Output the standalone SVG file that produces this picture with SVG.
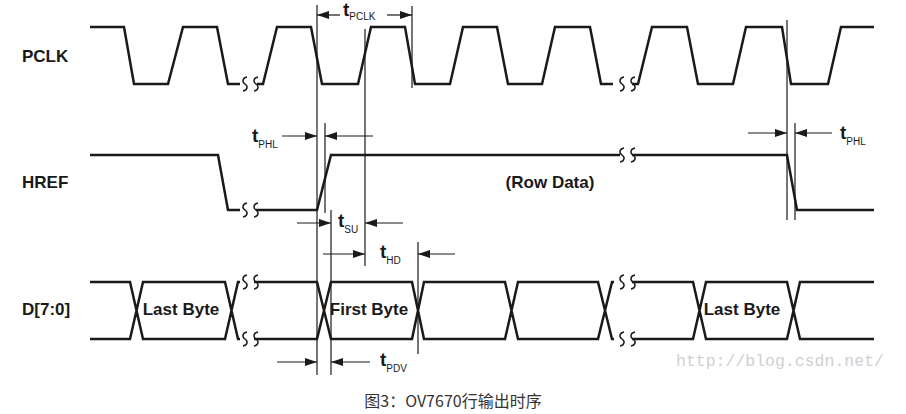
<svg xmlns="http://www.w3.org/2000/svg" width="906" height="414" viewBox="0 0 906 414">
<style>
.w{fill:none;stroke:#1a1a1a;stroke-width:2.5;stroke-linejoin:miter}
.t{fill:none;stroke:#1a1a1a;stroke-width:1.2}
.a{stroke:#1a1a1a;stroke-width:1.2;marker-end:url(#ah)}
.b{fill:none;stroke:#1a1a1a;stroke-width:1.5}
.lab{font-family:"Liberation Sans",Arial,sans-serif;font-weight:bold;font-size:17px;fill:#1a1a1a}
.tt{font-family:"Liberation Sans",Arial,sans-serif;font-weight:bold;font-size:19px;fill:#1a1a1a}
.sub{font-family:"Liberation Sans",Arial,sans-serif;font-size:10px;font-weight:normal;fill:#1a1a1a}
</style>
<defs>
<marker id="ah" markerWidth="12" markerHeight="8" refX="12" refY="4" orient="auto" markerUnits="userSpaceOnUse"><path d="M0,0 L12,4 L0,8 z" fill="#1a1a1a"/></marker>
<path id="brk" d="M2,-7 C-3,-6 -3,-2 0,0 C3,2 3,6 -2,7" class="b"/>
</defs>
<g id="PCLK">
<text class="lab" x="22" y="62">PCLK</text>
<polyline class="w" points="90,27 124,27 134,84 168,84 183,27 217,27 228,84 240,84"/>
<polyline class="w" points="257,84 263,84 277,27 311,27 322,84 358,84 371,27 405,27 415,84 450,84 463,27 497,27 508,84 542,84 555,27 590,27 601,84 613,84"/>
<polyline class="w" points="632,84 638,84 652,27 687,27 698,84 733,84 746,27 782,27 791,84 828,84 841,27 874,27"/>
<use href="#brk" x="245" y="84"/><use href="#brk" x="256" y="84"/>
<use href="#brk" x="622" y="84"/><use href="#brk" x="633" y="84"/>
</g>
<g id="HREF">
<text class="lab" x="22" y="188">HREF</text>
<polyline class="w" points="90,155 218,155 228,210 240,210"/>
<polyline class="w" points="256,210 317,210 331,155 620,155"/>
<polyline class="w" points="632,155 787,155 797,210 874,210"/>
<use href="#brk" x="245" y="210"/><use href="#brk" x="256" y="210"/>
<use href="#brk" x="622" y="155"/><use href="#brk" x="633" y="155"/>
<text class="lab" x="550" y="188" text-anchor="middle">(Row Data)</text>
</g>
<g id="D">
<text class="lab" x="22" y="315">D[7:0]</text>
<path class="w" d="M90,282 H130 L143,339 H225 L238,282 H240 M90,339 H130 L143,282 H225 L238,339 H240
M254,282 H317 L331,339 H412 L424,282 H505 L518,339 H598 L612,282 H614 M254,339 H317 L331,282 H412 L424,339 H505 L518,282 H598 L612,339 H614
M632,282 H693 L706,339 H787 L800,282 H874 M632,339 H693 L706,282 H787 L800,339 H874"/>
<use href="#brk" x="245" y="282"/><use href="#brk" x="256" y="282"/>
<use href="#brk" x="245" y="339"/><use href="#brk" x="256" y="339"/>
<use href="#brk" x="622" y="282"/><use href="#brk" x="633" y="282"/>
<use href="#brk" x="622" y="339"/><use href="#brk" x="633" y="339"/>
<text class="lab" x="181" y="315" text-anchor="middle">Last Byte</text>
<text class="lab" x="369" y="315" text-anchor="middle">First Byte</text>
<text class="lab" x="742" y="315" text-anchor="middle">Last Byte</text>
</g>
<g id="connectors">
<line class="t" x1="317" y1="5" x2="317" y2="375"/>
<line class="t" x1="365" y1="29" x2="365" y2="266"/>
<line class="t" x1="412" y1="6" x2="412" y2="88"/>
<line class="t" x1="325" y1="123" x2="325" y2="213"/>
<line class="t" x1="331" y1="210" x2="331" y2="375"/>
<line class="t" x1="418" y1="242" x2="418" y2="354"/>
<line class="t" x1="787" y1="20" x2="787" y2="220"/>
<line class="t" x1="795" y1="123" x2="795" y2="220"/>
<line class="a" x1="340" y1="15" x2="317" y2="15"/>
<line class="a" x1="387" y1="15" x2="412" y2="15"/>
<line class="a" x1="282" y1="136" x2="317" y2="136"/>
<line class="a" x1="373" y1="136" x2="325" y2="136"/>
<line class="a" x1="748" y1="133" x2="787" y2="133"/>
<line class="a" x1="832" y1="133" x2="795" y2="133"/>
<line class="a" x1="297" y1="223" x2="331" y2="223"/>
<line class="a" x1="403" y1="223" x2="365" y2="223"/>
<line class="a" x1="323" y1="254" x2="365" y2="254"/>
<line class="a" x1="455" y1="254" x2="418" y2="254"/>
<line class="a" x1="277" y1="362" x2="317" y2="362"/>
<line class="a" x1="370" y1="362" x2="331" y2="362"/>
</g>
<g id="labels">
<text class="tt" x="343" y="16">t<tspan class="sub" dy="4">PCLK</tspan></text>
<text class="tt" x="252" y="142">t<tspan class="sub" dy="6">PHL</tspan></text>
<text class="tt" x="840" y="139">t<tspan class="sub" dy="6">PHL</tspan></text>
<text class="tt" x="338" y="227">t<tspan class="sub" dy="6">SU</tspan></text>
<text class="tt" x="380" y="258">t<tspan class="sub" dy="6">HD</tspan></text>
<text class="tt" x="380" y="366">t<tspan class="sub" dy="6">PDV</tspan></text>
</g>
<text x="676" y="366" font-family="Liberation Mono,monospace" font-size="16.5" fill="#d0d0d0">http://blog.csdn.net/</text>
<text x="453" y="407" text-anchor="middle" font-family="Noto Sans CJK SC,sans-serif" font-size="16" fill="#333">图3：OV7670行输出时序</text>
</svg>
